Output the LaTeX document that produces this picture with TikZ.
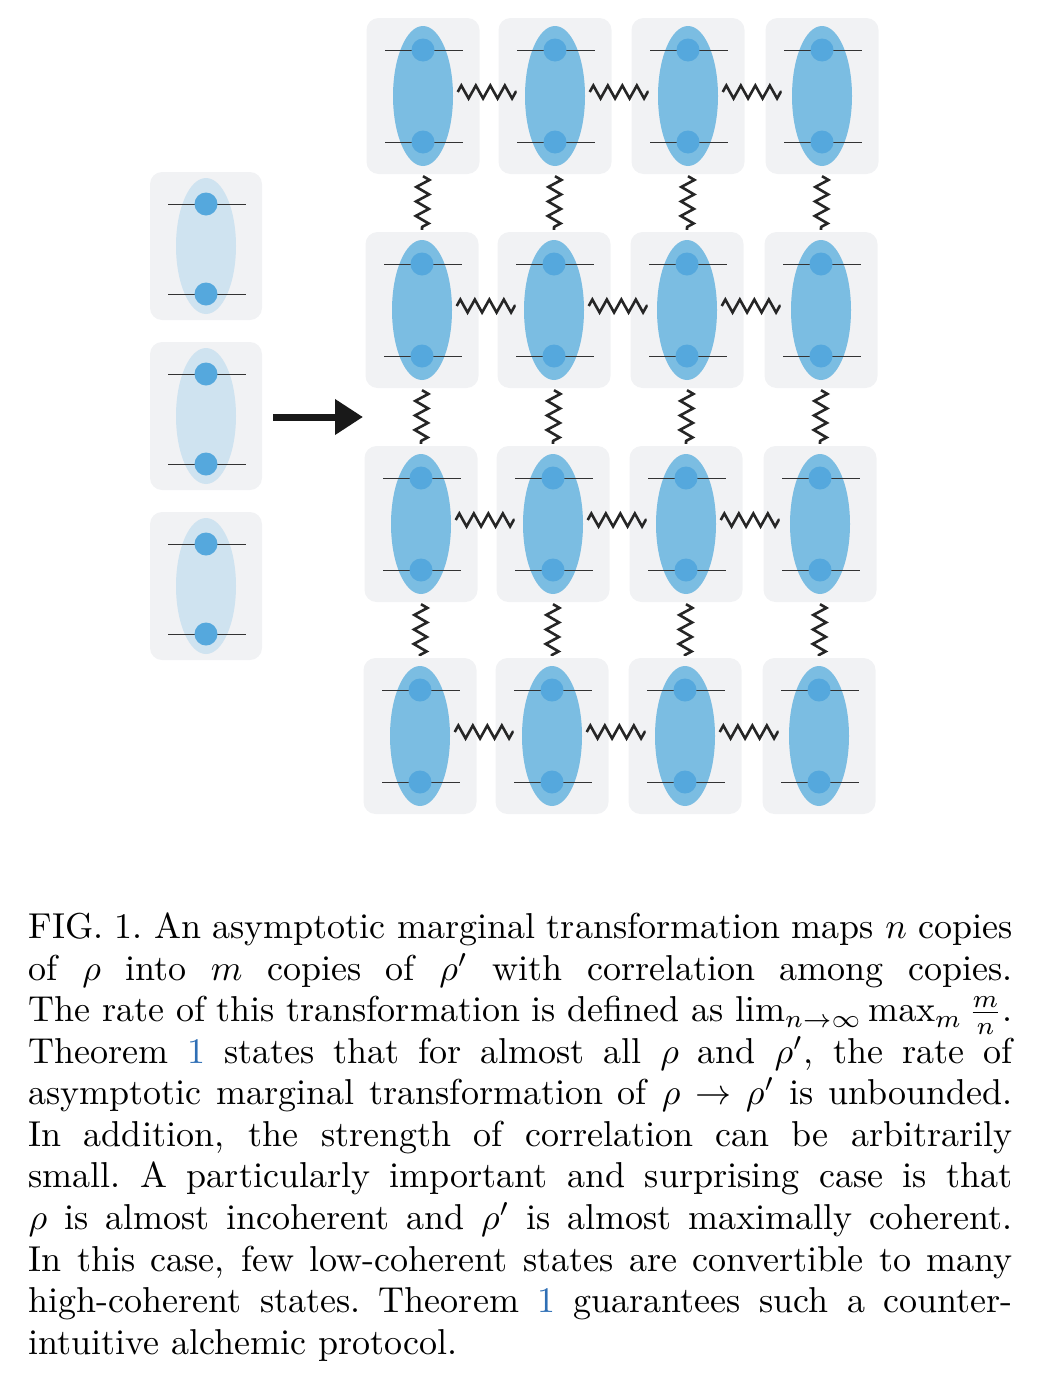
\documentclass[tikz,border=0pt]{standalone}
\usetikzlibrary{decorations.pathmorphing,arrows.meta}
\definecolor{boxg}{HTML}{F1F2F4}
\definecolor{ell}{HTML}{7BBDE2}
\definecolor{ellL}{HTML}{CFE3F0}
\definecolor{dot}{HTML}{55A8DD}
\definecolor{linkb}{HTML}{2F6FB5}
\tikzset{
 cellbox/.style={fill=boxg,rounded corners=12pt,minimum width=113pt,minimum height=156pt,inner sep=0},
 zz/.style={line width=2.6pt,draw=black!85,decorate,decoration={zigzag,segment length=14.5pt,amplitude=6.5pt}},
}
\newcommand{\mycell}[4]{% name, x, y, ellipse color
 \node[cellbox] (#1) at (#2,#3) {};
 \fill[#4] (#2,#3) ellipse [x radius=30pt,y radius=70pt];
 \draw[line width=1pt,black!80] (#2-38,#3-46) -- (#2+40,#3-46);
 \draw[line width=1pt,black!80] (#2-38,#3+46) -- (#2+40,#3+46);
 \fill[dot] (#2,#3-46) circle (11.5pt);
 \fill[dot] (#2,#3+46) circle (11.5pt);
}
\begin{document}
\begin{tikzpicture}[x=1pt,y=-1pt]
\useasboundingbox (0,0) rectangle (1040,1384);
% left cells
\foreach \r/\y in {1/246,2/416,3/586}{
 \node[fill=boxg,rounded corners=12pt,minimum width=112pt,minimum height=148pt,inner sep=0] (L\r) at (206,\y) {};
 \fill[ellL] (206,\y) ellipse [x radius=30pt,y radius=68pt];
 \draw[line width=1pt,black!80] (168,\y-42) -- (246,\y-42);
 \draw[line width=1pt,black!80] (168,\y+48) -- (246,\y+48);
 \fill[dot] (206,\y-42) circle (11.5pt);
 \fill[dot] (206,\y+48) circle (11.5pt);
}
% arrow
\coordinate (a1) at (273,417);
\coordinate (a2) at (363,417);
\draw[line width=7pt,black!90,-{Triangle[length=28pt,width=34pt]}] (a1) -- (a2);
% grid
\foreach \r/\y/\dx in {1/96/0,2/310/-1,3/524/-2,4/736/-3}{
 \foreach \c/\x in {1/423,2/555,3/688,4/822}{
  \mycell{g\r\c}{\x+\dx}{\y}{ell}
 }
}
\foreach \r in {1,2,3,4}{
 \foreach \c/\n in {1/2,2/3,3/4}{
  \draw[zz] ([xshift=-22pt,yshift=4pt]g\r\c.east) -- ([xshift=37pt,yshift=4pt]g\r\c.east);
 }
}
\foreach \r/\n in {1/2,2/3,3/4}{
 \foreach \c in {1,2,3,4}{
  \draw[zz] ([yshift=-2pt]g\r\c.south) -- ([yshift=2pt]g\n\c.north);
 }
}
\node[anchor=north west,scale=3.6,text width=273.3pt,align=justify,inner sep=0,font=\fontsize{10}{11.55}\selectfont] (cap) at (28,912) {FIG.~1.\ An asymptotic marginal transformation maps $n$ copies of $\rho$ into $m$ copies of $\rho'$ with correlation among copies.\ \linebreak The rate of this transformation is defined as $\lim_{n\to\infty}\max_m \frac{m}{n}$.\linebreak Theorem {\color{linkb}1} states that for almost all $\rho$ and $\rho'$, the rate of\linebreak asymptotic marginal transformation of $\rho\to\rho'$ is unbounded.\linebreak In addition, the strength of correlation can be arbitrarily\linebreak small.\ A particularly important and surprising case is that\linebreak $\rho$ is almost incoherent and $\rho'$ is almost maximally coherent.\linebreak In this case, few low-coherent states are convertible to many\linebreak high-coherent states.\ Theorem {\color{linkb}1} guarantees such a counter-\linebreak intuitive alchemic protocol.};
\end{tikzpicture}
\end{document}
